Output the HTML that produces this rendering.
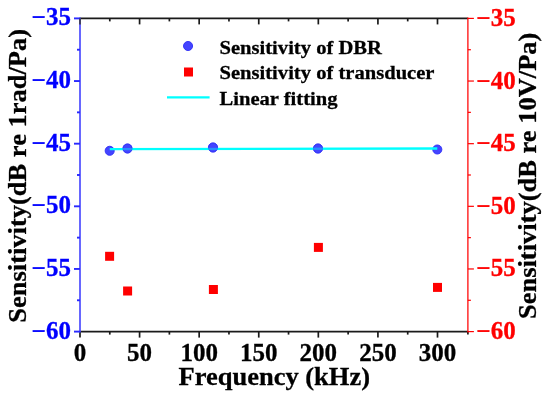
<!DOCTYPE html>
<html><head><meta charset="utf-8"><style>
html,body{margin:0;padding:0;background:#fff;}
svg{display:block;}
text{font-family:'Liberation Serif','Times New Roman',serif;font-weight:bold;stroke-width:0.3px;}
</style></head><body>
<svg width="550" height="397" viewBox="0 0 550 397">
<rect width="550" height="397" fill="#fff"/>
<line x1="80.0" y1="18.4" x2="467.9" y2="18.4" stroke="#1a1a1a" stroke-width="1.6"/>
<line x1="80.0" y1="331.6" x2="467.9" y2="331.6" stroke="#1a1a1a" stroke-width="1.6"/>
<line x1="80.00" y1="331.6" x2="80.00" y2="337.60" stroke="#1a1a1a" stroke-width="1.7"/>
<line x1="109.79" y1="331.6" x2="109.79" y2="334.60" stroke="#1a1a1a" stroke-width="1.7"/>
<line x1="109.79" y1="18.4" x2="109.79" y2="21.40" stroke="#1a1a1a" stroke-width="1.7"/>
<line x1="139.58" y1="331.6" x2="139.58" y2="337.60" stroke="#1a1a1a" stroke-width="1.7"/>
<line x1="139.58" y1="18.4" x2="139.58" y2="24.40" stroke="#1a1a1a" stroke-width="1.7"/>
<line x1="169.38" y1="331.6" x2="169.38" y2="334.60" stroke="#1a1a1a" stroke-width="1.7"/>
<line x1="169.38" y1="18.4" x2="169.38" y2="21.40" stroke="#1a1a1a" stroke-width="1.7"/>
<line x1="199.17" y1="331.6" x2="199.17" y2="337.60" stroke="#1a1a1a" stroke-width="1.7"/>
<line x1="199.17" y1="18.4" x2="199.17" y2="24.40" stroke="#1a1a1a" stroke-width="1.7"/>
<line x1="228.96" y1="331.6" x2="228.96" y2="334.60" stroke="#1a1a1a" stroke-width="1.7"/>
<line x1="228.96" y1="18.4" x2="228.96" y2="21.40" stroke="#1a1a1a" stroke-width="1.7"/>
<line x1="258.75" y1="331.6" x2="258.75" y2="337.60" stroke="#1a1a1a" stroke-width="1.7"/>
<line x1="258.75" y1="18.4" x2="258.75" y2="24.40" stroke="#1a1a1a" stroke-width="1.7"/>
<line x1="288.54" y1="331.6" x2="288.54" y2="334.60" stroke="#1a1a1a" stroke-width="1.7"/>
<line x1="288.54" y1="18.4" x2="288.54" y2="21.40" stroke="#1a1a1a" stroke-width="1.7"/>
<line x1="318.33" y1="331.6" x2="318.33" y2="337.60" stroke="#1a1a1a" stroke-width="1.7"/>
<line x1="318.33" y1="18.4" x2="318.33" y2="24.40" stroke="#1a1a1a" stroke-width="1.7"/>
<line x1="348.13" y1="331.6" x2="348.13" y2="334.60" stroke="#1a1a1a" stroke-width="1.7"/>
<line x1="348.13" y1="18.4" x2="348.13" y2="21.40" stroke="#1a1a1a" stroke-width="1.7"/>
<line x1="377.92" y1="331.6" x2="377.92" y2="337.60" stroke="#1a1a1a" stroke-width="1.7"/>
<line x1="377.92" y1="18.4" x2="377.92" y2="24.40" stroke="#1a1a1a" stroke-width="1.7"/>
<line x1="407.71" y1="331.6" x2="407.71" y2="334.60" stroke="#1a1a1a" stroke-width="1.7"/>
<line x1="407.71" y1="18.4" x2="407.71" y2="21.40" stroke="#1a1a1a" stroke-width="1.7"/>
<line x1="437.50" y1="331.6" x2="437.50" y2="337.60" stroke="#1a1a1a" stroke-width="1.7"/>
<line x1="437.50" y1="18.4" x2="437.50" y2="24.40" stroke="#1a1a1a" stroke-width="1.7"/>
<line x1="467.90" y1="331.6" x2="467.90" y2="334.60" stroke="#1a1a1a" stroke-width="1.7"/>
<line x1="80.0" y1="17.599999999999998" x2="80.0" y2="332.40000000000003" stroke="#4040ff" stroke-width="1.6"/>
<line x1="467.9" y1="17.599999999999998" x2="467.9" y2="332.40000000000003" stroke="#ff0000" stroke-width="1.25"/>
<line x1="74.00" y1="18.40" x2="80.0" y2="18.40" stroke="#2a2aff" stroke-width="1.9"/>
<line x1="467.9" y1="18.40" x2="473.90" y2="18.40" stroke="#ff0000" stroke-width="1.2"/>
<line x1="77.00" y1="49.72" x2="80.0" y2="49.72" stroke="#2a2aff" stroke-width="1.9"/>
<line x1="467.9" y1="49.72" x2="470.90" y2="49.72" stroke="#ff0000" stroke-width="1.2"/>
<line x1="74.00" y1="81.04" x2="80.0" y2="81.04" stroke="#2a2aff" stroke-width="1.9"/>
<line x1="467.9" y1="81.04" x2="473.90" y2="81.04" stroke="#ff0000" stroke-width="1.2"/>
<line x1="77.00" y1="112.36" x2="80.0" y2="112.36" stroke="#2a2aff" stroke-width="1.9"/>
<line x1="467.9" y1="112.36" x2="470.90" y2="112.36" stroke="#ff0000" stroke-width="1.2"/>
<line x1="74.00" y1="143.68" x2="80.0" y2="143.68" stroke="#2a2aff" stroke-width="1.9"/>
<line x1="467.9" y1="143.68" x2="473.90" y2="143.68" stroke="#ff0000" stroke-width="1.2"/>
<line x1="77.00" y1="175.00" x2="80.0" y2="175.00" stroke="#2a2aff" stroke-width="1.9"/>
<line x1="467.9" y1="175.00" x2="470.90" y2="175.00" stroke="#ff0000" stroke-width="1.2"/>
<line x1="74.00" y1="206.32" x2="80.0" y2="206.32" stroke="#2a2aff" stroke-width="1.9"/>
<line x1="467.9" y1="206.32" x2="473.90" y2="206.32" stroke="#ff0000" stroke-width="1.2"/>
<line x1="77.00" y1="237.64" x2="80.0" y2="237.64" stroke="#2a2aff" stroke-width="1.9"/>
<line x1="467.9" y1="237.64" x2="470.90" y2="237.64" stroke="#ff0000" stroke-width="1.2"/>
<line x1="74.00" y1="268.96" x2="80.0" y2="268.96" stroke="#2a2aff" stroke-width="1.9"/>
<line x1="467.9" y1="268.96" x2="473.90" y2="268.96" stroke="#ff0000" stroke-width="1.2"/>
<line x1="77.00" y1="300.28" x2="80.0" y2="300.28" stroke="#2a2aff" stroke-width="1.9"/>
<line x1="467.9" y1="300.28" x2="470.90" y2="300.28" stroke="#ff0000" stroke-width="1.2"/>
<line x1="74.00" y1="331.60" x2="80.0" y2="331.60" stroke="#2a2aff" stroke-width="1.9"/>
<line x1="467.9" y1="331.60" x2="473.90" y2="331.60" stroke="#ff0000" stroke-width="1.2"/>
<line x1="80.0" y1="18.4" x2="80.0" y2="24.40" stroke="#3a3a3a" stroke-width="1.6"/>
<text transform="translate(71.0,25.30) scale(1,0.965)" text-anchor="end" fill="#0000ff" stroke="#0000ff" font-size="25.0">−35</text>
<text transform="translate(476.6,25.90) scale(1,0.965)" fill="#ff0000" stroke="#ff0000" font-size="25.0">−35</text>
<text transform="translate(71.0,87.94) scale(1,0.965)" text-anchor="end" fill="#0000ff" stroke="#0000ff" font-size="25.0">−40</text>
<text transform="translate(476.6,88.54) scale(1,0.965)" fill="#ff0000" stroke="#ff0000" font-size="25.0">−40</text>
<text transform="translate(71.0,150.58) scale(1,0.965)" text-anchor="end" fill="#0000ff" stroke="#0000ff" font-size="25.0">−45</text>
<text transform="translate(476.6,151.18) scale(1,0.965)" fill="#ff0000" stroke="#ff0000" font-size="25.0">−45</text>
<text transform="translate(71.0,213.22) scale(1,0.965)" text-anchor="end" fill="#0000ff" stroke="#0000ff" font-size="25.0">−50</text>
<text transform="translate(476.6,213.82) scale(1,0.965)" fill="#ff0000" stroke="#ff0000" font-size="25.0">−50</text>
<text transform="translate(71.0,275.86) scale(1,0.965)" text-anchor="end" fill="#0000ff" stroke="#0000ff" font-size="25.0">−55</text>
<text transform="translate(476.6,276.46) scale(1,0.965)" fill="#ff0000" stroke="#ff0000" font-size="25.0">−55</text>
<text transform="translate(71.0,338.50) scale(1,0.965)" text-anchor="end" fill="#0000ff" stroke="#0000ff" font-size="25.0">−60</text>
<text transform="translate(476.6,339.10) scale(1,0.965)" fill="#ff0000" stroke="#ff0000" font-size="25.0">−60</text>
<text transform="translate(80.00,361.0) scale(1,0.965)" text-anchor="middle" fill="#000" stroke="#000" font-size="25.0">0</text>
<text transform="translate(139.58,361.0) scale(1,0.965)" text-anchor="middle" fill="#000" stroke="#000" font-size="25.0">50</text>
<text transform="translate(199.17,361.0) scale(1,0.965)" text-anchor="middle" fill="#000" stroke="#000" font-size="25.0">100</text>
<text transform="translate(258.75,361.0) scale(1,0.965)" text-anchor="middle" fill="#000" stroke="#000" font-size="25.0">150</text>
<text transform="translate(318.33,361.0) scale(1,0.965)" text-anchor="middle" fill="#000" stroke="#000" font-size="25.0">200</text>
<text transform="translate(377.92,361.0) scale(1,0.965)" text-anchor="middle" fill="#000" stroke="#000" font-size="25.0">250</text>
<text transform="translate(437.50,361.0) scale(1,0.965)" text-anchor="middle" fill="#000" stroke="#000" font-size="25.0">300</text>
<text transform="translate(274.25,384.7) scale(1,0.93)" text-anchor="middle" stroke="#000" font-size="26.5">Frequency (kHz)</text>
<text transform="translate(26.0,175.80) rotate(-90) scale(1,0.93)" text-anchor="middle" stroke="#000" font-size="26.5">Sensitivity(dB re 1rad/Pa)</text>
<text transform="translate(536.0,175.80) rotate(-90) scale(1,0.93)" text-anchor="middle" stroke="#000" font-size="26.5">Sensitivity(dB re 10V/Pa)</text>
<circle cx="109.7" cy="150.8" r="4.55" fill="#4444ff" stroke="#2c2cf6" stroke-width="0.9"/>
<circle cx="127.5" cy="148.5" r="4.55" fill="#4444ff" stroke="#2c2cf6" stroke-width="0.9"/>
<circle cx="213" cy="147.5" r="4.55" fill="#4444ff" stroke="#2c2cf6" stroke-width="0.9"/>
<circle cx="318" cy="148.5" r="4.55" fill="#4444ff" stroke="#2c2cf6" stroke-width="0.9"/>
<circle cx="437.3" cy="149.5" r="4.55" fill="#4444ff" stroke="#2c2cf6" stroke-width="0.9"/>
<line x1="109.7" y1="149.1" x2="437.3" y2="148.5" stroke="#00ffff" stroke-width="2.3"/>
<circle cx="127.5" cy="148.5" r="4.55" fill="#4444ff" stroke="#2c2cf6" stroke-width="0.9" opacity="0.6"/>
<circle cx="213" cy="147.5" r="4.55" fill="#4444ff" stroke="#2c2cf6" stroke-width="0.9" opacity="0.6"/>
<circle cx="318" cy="148.5" r="4.55" fill="#4444ff" stroke="#2c2cf6" stroke-width="0.9" opacity="0.6"/>
<rect x="105.10" y="251.80" width="9.0" height="9.0" fill="#ff0000"/>
<rect x="123.10" y="286.50" width="9.0" height="9.0" fill="#ff0000"/>
<rect x="208.90" y="285.00" width="9.0" height="9.0" fill="#ff0000"/>
<rect x="313.90" y="242.90" width="9.0" height="9.0" fill="#ff0000"/>
<rect x="433.00" y="282.90" width="9.0" height="9.0" fill="#ff0000"/>
<circle cx="188.05" cy="46" r="4.55" fill="#4444ff" stroke="#2c2cf6" stroke-width="0.9"/>
<rect x="184.00" y="67.50" width="9.0" height="9.0" fill="#ff0000"/>
<line x1="167" y1="97.4" x2="209.6" y2="97.4" stroke="#00ffff" stroke-width="2.4"/>
<text transform="translate(219.5,53.6) scale(1,0.95)" stroke="#000" font-size="20.6">Sensitivity of DBR</text>
<text transform="translate(219.5,79.4) scale(1,0.95)" stroke="#000" font-size="20.6">Sensitivity of transducer</text>
<text transform="translate(219.5,105) scale(1,0.95)" stroke="#000" font-size="20.6">Linear fitting</text>
</svg>
</body></html>
